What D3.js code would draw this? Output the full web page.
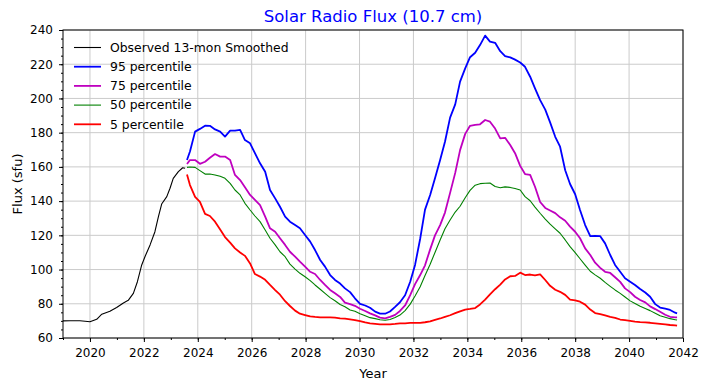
<!DOCTYPE html>
<html>
<head>
<meta charset="utf-8">
<script src="https://cdn.jsdelivr.net/npm/d3@7"></script>
<style>
  body { margin: 0; background: #fff; }
  text { font-family: "DejaVu Sans", sans-serif; }
</style>
</head>
<body>
<div id="graph"></div>
<script>
let obsYears = [2019.00, 2019.26, 2019.63, 2019.82, 2020.00, 2020.25, 2020.44, 2020.74, 2020.99, 2021.24,
  2021.42, 2021.61, 2021.76, 2021.92, 2022.04, 2022.23, 2022.41, 2022.54, 2022.66, 2022.85,
  2022.97, 2023.09, 2023.28, 2023.44, 2023.53]
let observed = [70.0, 70.1, 70.1, 69.8, 69.5, 70.9, 73.9, 75.6, 77.8, 80.5,
  82.0, 86.1, 92.9, 102.7, 107.5, 114.4, 122.1, 130.9, 138.3, 142.6,
  147.5, 153.3, 157.2, 159.5, 159.2]

let predYears = [2023.60, 2023.71, 2023.90, 2024.08, 2024.27, 2024.45, 2024.64, 2024.83, 2025.01, 2025.20,
  2025.38, 2025.57, 2025.75, 2025.94, 2026.12, 2026.31, 2026.50, 2026.68, 2026.87, 2027.05,
  2027.24, 2027.42, 2027.61, 2027.79, 2027.98, 2028.17, 2028.35, 2028.54, 2028.72, 2028.91,
  2029.09, 2029.28, 2029.46, 2029.65, 2029.83, 2030.02, 2030.21, 2030.39, 2030.58, 2030.76,
  2030.95, 2031.13, 2031.32, 2031.50, 2031.69, 2031.88, 2032.06, 2032.25, 2032.43, 2032.62,
  2032.80, 2032.99, 2033.17, 2033.36, 2033.55, 2033.73, 2033.92, 2034.10, 2034.29, 2034.47,
  2034.66, 2034.84, 2035.03, 2035.22, 2035.40, 2035.59, 2035.77, 2035.96, 2036.14, 2036.33,
  2036.51, 2036.70, 2036.89, 2037.07, 2037.26, 2037.44, 2037.63, 2037.81, 2038.00, 2038.18,
  2038.37, 2038.56, 2038.74, 2038.93, 2039.11, 2039.30, 2039.48, 2039.67, 2039.85, 2040.04,
  2040.22, 2040.41, 2040.60, 2040.78, 2040.97, 2041.15, 2041.34, 2041.52, 2041.71, 2041.78]

let p95 = [164.0, 169.0, 180.6, 182.2, 184.1, 184.0, 181.9, 180.6, 177.7, 181.2,
  181.2, 181.6, 175.7, 173.8, 168.0, 162.1, 157.2, 146.5, 141.6, 136.7,
  130.9, 128.0, 126.0, 124.1, 120.2, 116.3, 111.4, 105.6, 101.7, 96.8,
  93.9, 91.8, 89.0, 86.8, 83.2, 80.0, 79.0, 77.7, 75.4, 74.2,
  74.2, 75.5, 78.2, 80.9, 85.0, 92.9, 102.7, 118.0, 135.0, 143.6,
  153.3, 164.0, 174.7, 188.8, 196.5, 209.8, 217.6, 224.1, 226.7, 231.2,
  236.7, 233.2, 232.5, 227.6, 224.7, 224.0, 222.7, 221.0, 218.5, 212.7,
  205.9, 199.0, 193.5, 186.0, 177.6, 171.8, 158.0, 150.0, 144.0, 134.8,
  126.0, 119.5, 119.6, 119.5, 115.3, 108.5, 102.7, 98.7, 94.9, 92.9,
  91.0, 88.6, 86.6, 84.1, 79.8, 77.8, 77.1, 76.4, 74.8, 74.4]

let p75 = [161.7, 164.0, 164.0, 161.8, 163.0, 165.3, 167.5, 166.0, 166.0, 164.0,
  155.3, 152.3, 148.1, 143.6, 140.7, 137.7, 130.9, 124.1, 122.1, 118.3,
  114.4, 110.4, 107.5, 104.6, 101.7, 98.7, 97.4, 93.9, 91.0, 88.1,
  86.1, 84.0, 80.7, 79.8, 78.8, 77.1, 75.8, 74.4, 73.2, 71.9,
  71.5, 72.3, 73.5, 75.8, 79.0, 85.0, 91.5, 96.8, 102.5, 111.8,
  120.0, 126.0, 133.3, 144.8, 156.5, 169.8, 179.3, 184.0, 184.6, 184.9,
  187.4, 186.4, 182.4, 176.7, 177.0, 172.8, 168.0, 160.6, 155.8, 155.3,
  148.4, 139.5, 136.0, 134.5, 133.0, 130.5, 128.5, 125.1, 122.1, 118.3,
  112.4, 108.5, 104.0, 101.0, 98.7, 98.0, 95.5, 92.8, 89.0, 86.8,
  84.1, 82.2, 80.8, 78.5, 76.9, 75.3, 73.6, 72.4, 72.1, 72.1]

let p50 = [159.7, 159.9, 159.7, 157.8, 155.8, 155.8, 155.3, 154.5, 153.3, 150.4,
  146.5, 143.6, 138.7, 134.8, 131.3, 128.0, 123.1, 118.3, 114.4, 110.4,
  107.5, 103.2, 100.3, 97.8, 95.8, 93.5, 91.0, 88.5, 86.1, 83.6,
  81.8, 79.6, 78.3, 76.4, 75.6, 74.2, 73.0, 71.9, 71.3, 70.7,
  70.4, 70.8, 72.0, 73.4, 76.0, 79.8, 84.6, 90.0, 96.5, 103.1,
  110.0, 117.3, 123.8, 129.0, 133.6, 137.0, 142.0, 146.3, 149.3, 150.2,
  150.4, 150.6, 148.5, 147.8, 148.3, 148.0, 147.4, 146.5, 142.6, 140.2,
  136.5, 132.9, 129.5, 126.5, 123.8, 121.2, 117.3, 113.4, 109.9, 106.3,
  102.6, 99.0, 96.9, 94.9, 92.5, 90.2, 88.1, 86.1, 84.0, 81.7,
  80.2, 78.5, 77.2, 76.0, 74.5, 73.0, 72.1, 71.3, 70.7, 70.5]

let p5 = [155.5, 149.4, 142.5, 139.5, 132.5, 131.3, 128.0, 123.4, 119.0, 115.7,
  112.4, 110.0, 108.0, 103.6, 97.4, 95.9, 94.0, 91.0, 88.0, 85.3,
  81.5, 78.7, 76.0, 74.2, 73.4, 72.6, 72.3, 72.1, 72.1, 72.1,
  71.9, 71.5, 71.3, 70.9, 70.5, 69.8, 69.1, 68.6, 68.3, 68.0,
  68.0, 68.0, 68.2, 68.5, 68.6, 68.8, 68.8, 68.8, 69.2, 69.7,
  70.6, 71.4, 72.4, 73.3, 74.5, 75.6, 76.6, 77.0, 77.5, 79.6,
  82.4, 85.5, 88.5, 91.2, 94.2, 96.1, 96.3, 98.2, 96.8, 97.1,
  96.6, 97.2, 93.9, 90.5, 88.2, 87.0, 85.2, 82.4, 82.0, 81.2,
  79.5, 76.6, 74.6, 74.0, 73.2, 72.3, 71.8, 70.8, 70.4, 70.0,
  69.6, 69.3, 69.1, 68.9, 68.6, 68.3, 68.0, 67.6, 67.4, 67.2]

let xTicks = [2020, 2022, 2024, 2026, 2028, 2030, 2032, 2034, 2036, 2038, 2040, 2042]
let yTicks = [60, 80, 100, 120, 140, 160, 180, 200, 220, 240]

let series = [
  {name: "Observed 13-mon Smoothed", years: obsYears, values: observed, color: "black", width: 1.1},
  {name: "95 percentile", years: predYears, values: p95, color: "#0000ff", width: 1.8},
  {name: "75 percentile", years: predYears, values: p75, color: "#bf00bf", width: 1.8},
  {name: "50 percentile", years: predYears, values: p50, color: "#008000", width: 1.1},
  {name: "5 percentile", years: predYears, values: p5, color: "#ff0000", width: 1.8}
]

let width = 709, height = 390
let plotLeft = 63, plotRight = 683, plotTop = 30, plotBottom = 338

var svg = d3.select("#graph")
  .append("svg")
  .attr("width", width).attr("height", height)

var xScale = d3.scaleLinear().domain([2019, 2042]).range([plotLeft, plotRight])
var yScale = d3.scaleLinear().domain([60, 240]).range([plotBottom, plotTop])

// grid
svg.append("g").selectAll("line").data(xTicks).enter().append("line")
  .attr("x1", d => xScale(d)).attr("x2", d => xScale(d))
  .attr("y1", plotTop).attr("y2", plotBottom)
  .attr("stroke", "#cbcbcb").attr("stroke-width", 1)
svg.append("g").selectAll("line").data(yTicks).enter().append("line")
  .attr("y1", d => yScale(d)).attr("y2", d => yScale(d))
  .attr("x1", plotLeft).attr("x2", plotRight)
  .attr("stroke", "#cbcbcb").attr("stroke-width", 1)

// axes
var xMinor = d3.axisBottom(xScale).tickValues(d3.range(2019, 2043, 1)).tickSize(2).tickFormat("")
var yMinor = d3.axisLeft(yScale).tickValues(d3.range(60, 241, 5)).tickSize(2).tickFormat("")
var xAxis = d3.axisBottom(xScale).tickValues(xTicks).tickFormat(d3.format("d")).tickSize(4).tickPadding(6)
var yAxis = d3.axisLeft(yScale).tickValues(yTicks).tickSize(4).tickPadding(6)

svg.append("g").attr("transform", `translate(0,${plotBottom})`).call(xMinor)
svg.append("g").attr("transform", `translate(${plotLeft},0)`).call(yMinor)
var gx = svg.append("g").attr("transform", `translate(0,${plotBottom})`).call(xAxis)
var gy = svg.append("g").attr("transform", `translate(${plotLeft},0)`).call(yAxis)

svg.selectAll(".domain").remove()
svg.selectAll(".tick line").attr("stroke", "black").attr("stroke-width", 1)
gx.selectAll("text").attr("font-size", 12).attr("fill", "black")
gy.selectAll("text").attr("font-size", 12).attr("fill", "black")

// lines
var line = d3.line()
  .x(d => xScale(d[0]))
  .y(d => yScale(d[1]))

series.forEach(s => {
  svg.append("path")
    .datum(s.years.map((yr, i) => [yr, s.values[i]]))
    .attr("d", line)
    .attr("fill", "none")
    .attr("stroke", s.color)
    .attr("stroke-width", s.width)
    .attr("stroke-linejoin", "round")
})

// frame
svg.append("rect")
  .attr("x", plotLeft).attr("y", plotTop)
  .attr("width", plotRight - plotLeft).attr("height", plotBottom - plotTop)
  .attr("fill", "none").attr("stroke", "black").attr("stroke-width", 1)

// legend
var legend = svg.append("g")
series.forEach((s, i) => {
  let ly = 47.5 + i * 19.2
  legend.append("line")
    .attr("x1", 74).attr("x2", 101).attr("y1", ly).attr("y2", ly)
    .attr("stroke", s.color).attr("stroke-width", s.width)
  legend.append("text")
    .attr("x", 110).attr("y", ly).attr("dy", "0.35em")
    .attr("font-size", 12.4).text(s.name)
})

// titles
svg.append("text")
  .attr("x", (plotLeft + plotRight) / 2).attr("y", 22)
  .attr("text-anchor", "middle").attr("font-size", 16.5).attr("fill", "#0000ff")
  .text("Solar Radio Flux (10.7 cm)")
svg.append("text")
  .attr("x", (plotLeft + plotRight) / 2).attr("y", 378)
  .attr("text-anchor", "middle").attr("font-size", 13)
  .text("Year")
svg.append("text")
  .attr("transform", `translate(22,${(plotTop + plotBottom) / 2}) rotate(-90)`)
  .attr("text-anchor", "middle").attr("font-size", 13)
  .text("Flux (sfu)")
</script>
</body>
</html>
